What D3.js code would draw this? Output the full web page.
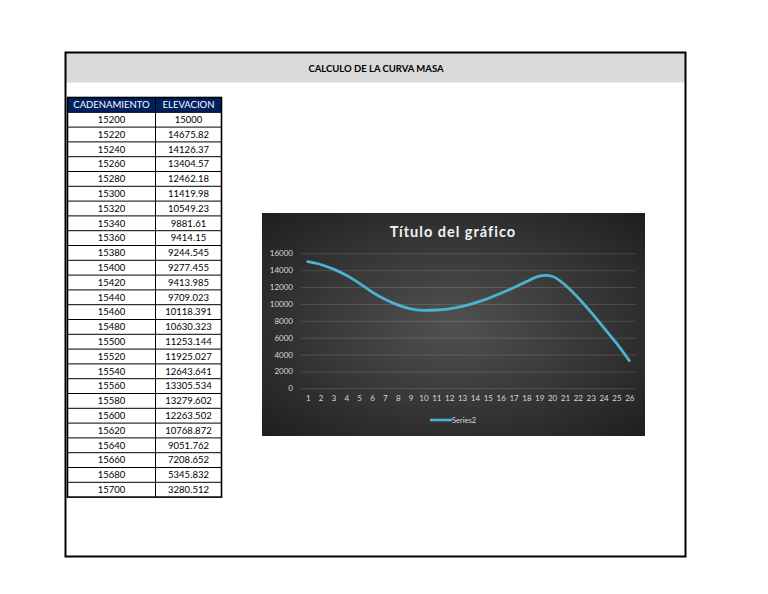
<!DOCTYPE html>
<html><head><meta charset="utf-8">
<script src="https://cdn.jsdelivr.net/npm/d3@7"></script>
<style>body{margin:0;background:#fff;}svg{display:block;}</style>
</head><body>
<svg id="c" width="768" height="594"></svg>
<script>
const cadenamiento = [15200,15220,15240,15260,15280,15300,15320,15340,15360,15380,15400,15420,15440,15460,15480,15500,15520,15540,15560,15580,15600,15620,15640,15660,15680,15700];
const elevacionText = ["15000","14675.82","14126.37","13404.57","12462.18","11419.98","10549.23","9881.61","9414.15","9244.545","9277.455","9413.985","9709.023","10118.391","10630.323","11253.144","11925.027","12643.641","13305.534","13279.602","12263.502","10768.872","9051.762","7208.652","5345.832","3280.512"];
const elevacion = elevacionText.map(Number);
const xLabels = d3.range(1, 27).map(String);
const yTicks = [0,2000,4000,6000,8000,10000,12000,14000,16000];
const sheetTitle = "CALCULO DE LA CURVA MASA";
const chartTitle = "Título del gráfico";
const seriesName = "Series2";
const headers = ["CADENAMIENTO","ELEVACION"];

const svg = d3.select("#c");
const font = "Lato, 'Open Sans', sans-serif";

// Sheet frame + header band
svg.append("rect").attr("x",65.5).attr("y",52.5).attr("width",620).attr("height",30).attr("fill","#d9d9d9");
svg.append("rect").attr("x",65.5).attr("y",52.5).attr("width",620).attr("height",504)
  .attr("fill","none").attr("stroke","#000").attr("stroke-width",2);
svg.append("text").attr("x",376).attr("y",72).attr("text-anchor","middle")
  .attr("font-family",font).attr("font-weight","bold").attr("font-size",9.5).attr("fill","#000").text(sheetTitle);

// Table
const tx0 = 67.5, tx1 = 155.5, tx2 = 221.5, ty0 = 97.5, rowH = 14.8;
const tg = svg.append("g");
tg.append("rect").attr("x",tx0).attr("y",ty0).attr("width",tx2-tx0).attr("height",rowH).attr("fill","#002060");
tg.append("text").attr("x",(tx0+tx1)/2).attr("y",ty0+rowH/2+3.3).attr("text-anchor","middle")
  .attr("font-family",font).attr("font-size",9.5).attr("fill","#fff").text(headers[0]);
tg.append("text").attr("x",(tx1+tx2)/2).attr("y",ty0+rowH/2+3.3).attr("text-anchor","middle")
  .attr("font-family",font).attr("font-size",9.5).attr("fill","#fff").text(headers[1]);
cadenamiento.forEach((c,i)=>{
  const y = ty0 + rowH*(i+1);
  tg.append("line").attr("x1",tx0).attr("x2",tx2).attr("y1",y).attr("y2",y).attr("stroke","#000").attr("stroke-width",1);
  tg.append("text").attr("x",(tx0+tx1)/2).attr("y",y+rowH/2+3.3).attr("text-anchor","middle")
    .attr("font-family",font).attr("font-size",9.5).attr("fill","#000").text(c);
  tg.append("text").attr("x",(tx1+tx2)/2).attr("y",y+rowH/2+3.3).attr("text-anchor","middle")
    .attr("font-family",font).attr("font-size",9.5).attr("fill","#000").text(elevacionText[i]);
});
const tBottom = ty0 + rowH*(cadenamiento.length+1);
tg.append("line").attr("x1",tx1).attr("x2",tx1).attr("y1",ty0).attr("y2",tBottom).attr("stroke","#000").attr("stroke-width",1);
tg.append("rect").attr("x",tx0).attr("y",ty0).attr("width",tx2-tx0).attr("height",tBottom-ty0)
  .attr("fill","none").attr("stroke","#000").attr("stroke-width",1.6);

// Chart
const cx = 262, cy = 213, cw = 383, ch = 223;
const defs = svg.append("defs");
const rg = defs.append("radialGradient").attr("id","bg").attr("cx","50%").attr("cy","50%").attr("r","70%");
rg.append("stop").attr("offset","0%").attr("stop-color","#515151");
rg.append("stop").attr("offset","100%").attr("stop-color","#1f1f1f");
svg.append("rect").attr("x",cx).attr("y",cy).attr("width",cw).attr("height",ch).attr("fill","url(#bg)");

svg.append("text").attr("x",453).attr("y",237).attr("text-anchor","middle")
  .attr("font-family",font).attr("font-weight","bold").attr("font-size",14.5).attr("letter-spacing",1)
  .attr("fill","#f2f2f2").text(chartTitle);

const x = d3.scalePoint().domain(xLabels).range([307.7, 629.3]);
const y = d3.scaleLinear().domain([0,16000]).range([388.3, 253.3]);

const yAxis = d3.axisLeft(y).tickValues(yTicks).tickFormat(d3.format("d")).tickSize(-(635.7-301)).tickPadding(8);
const ya = svg.append("g").attr("transform","translate(301,0)").call(yAxis);
ya.select(".domain").remove();
ya.selectAll(".tick line").attr("stroke","#ffffff").attr("stroke-opacity",0.18).attr("stroke-width",0.8);
ya.selectAll(".tick text").attr("font-family",font).attr("font-size",8).attr("fill","#d9d9d9");

const xAxis = d3.axisBottom(x).tickSize(0).tickPadding(7);
const xa = svg.append("g").attr("transform","translate(0,388.3)").call(xAxis);
xa.select(".domain").remove();
xa.selectAll(".tick text").attr("font-family",font).attr("font-size",8).attr("fill","#d9d9d9");

const line = d3.line().x((d,i)=>x(xLabels[i])).y(d=>y(d)).curve(d3.curveCatmullRom.alpha(0.5));
svg.append("path").datum(elevacion).attr("d",line).attr("fill","none")
  .attr("stroke","#4bb3d0").attr("stroke-width",2.8).attr("stroke-linecap","round").attr("stroke-linejoin","round");

// Legend
svg.append("line").attr("x1",430).attr("x2",452).attr("y1",420).attr("y2",420).attr("stroke","#4bb3d0").attr("stroke-width",2.6);
svg.append("text").attr("x",452).attr("y",423).attr("font-family",font).attr("font-size",7.5).attr("fill","#d9d9d9").text(seriesName);
</script>
</body></html>
